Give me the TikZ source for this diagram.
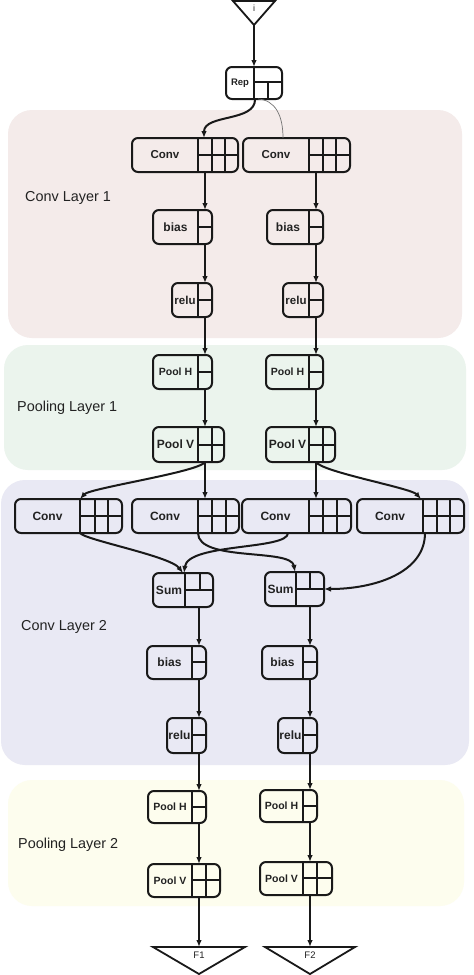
\documentclass[tikz,border=0pt]{standalone}
\usepackage{fontspec}
\setmainfont{Liberation Sans}
\usetikzlibrary{arrows.meta}
\definecolor{rA}{HTML}{F4EBEA}
\definecolor{rB}{HTML}{EBF4ED}
\definecolor{rC}{HTML}{E9E9F4}
\definecolor{rD}{HTML}{FDFDEE}
\definecolor{txt}{HTML}{222222}
\newcommand\fsz[1]{\fontsize{#1}{#1}\selectfont}
% name, x1, y1, x2, y2, xdiv, first-column end, label
\newcommand\blk[8]{%
  \node[box, anchor=north west, minimum width={(#4-#2)*1pt}, minimum height={(#5-#3)*1pt}] (#1) at (#2,#3) {};
  \node[cellnode, anchor=north west, minimum width={(#4-#6)*1pt}, minimum height={(#5-#3)*1pt}] (#1-p) at (#6,#3) {};
  \node[cellnode, anchor=north west, minimum width={(#7-#6)*1pt}, minimum height={(#5-#3)*1pt}] (#1-c) at (#6,#3) {};
  \node[lbl] (#1-l) at ({(#2+#6)/2},{(#3+#5)/2}) {#8};
  \draw[grid] (#6,#3) -- (#6,#5);
}
\newcommand\hln[3]{\draw[grid] (#1,#3) -- (#2,#3);}
\newcommand\vln[3]{\draw[grid] (#1,#2) -- (#1,#3);}
\begin{document}
\begin{tikzpicture}[x=1pt,y=-1pt,
  box/.style={draw=black!90, line width=2pt, rounded corners=6pt, inner sep=0pt, outer sep=0pt},
  cellnode/.style={inner sep=0pt, outer sep=0pt},
  lbl/.style={font=\bfseries, text=txt, inner sep=0pt},
  grid/.style={line width=1.8pt, draw=black!90},
  arr/.style={line width=2pt, draw=black!90, -{Latex[length=7pt,width=5.5pt]}},
  thinln/.style={line width=0.7pt, draw=black!55},
  region/.style={rounded corners=24pt},
  layer/.style={font=\fsz{14.4}, text=txt, anchor=west, inner sep=0pt}]
\useasboundingbox (0,0) rectangle (474,975);
\fill[white] (0,0) rectangle (474,975);
% layer regions
\fill[rA, region] (8,110) rectangle (462,338);
\fill[rB, region] (4,345) rectangle (466,470);
\fill[rC, region] (1,480) rectangle (469,765);
\fill[rD, region] (8,780) rectangle (464,906);
\node[layer] (lab1) at (25,198) {Conv Layer 1};
\node[layer] (lab2) at (17,408) {Pooling Layer 1};
\node[layer] (lab3) at (21,627) {Conv Layer 2};
\node[layer] (lab4) at (18,845) {Pooling Layer 2};
% input
\draw[grid, line join=miter] (233,1) -- (275,1) -- (254,25) -- cycle;
\node[lbl, font=\mdseries\fsz{9}] (inlbl) at (254,8) {i};
\coordinate (in) at (254,25);
% Rep
\blk{rep}{226}{67}{282}{99}{254}{282}{\fsz{9.5}Rep}
\hln{254}{282}{82}\vln{268}{82}{99}
% Conv layer 1
\blk{convA}{132}{138}{238}{172}{198}{212}{\fsz{11.5}Conv}
\hln{198}{238}{155}\vln{212}{138}{172}\vln{225}{138}{172}
\blk{convB}{243}{138}{350}{172}{309}{323}{\fsz{11.5}Conv}
\hln{309}{350}{155}\vln{323}{138}{172}\vln{336}{138}{172}
\blk{biasA}{153}{210}{212}{244}{198}{212}{\fsz{12}bias}\hln{198}{212}{227}
\blk{biasB}{267}{210}{323}{244}{309}{323}{\fsz{12}bias}\hln{309}{323}{227}
\blk{reluA}{172}{283}{212}{317}{198}{212}{\fsz{11.5}relu}\hln{198}{212}{300}
\blk{reluB}{283}{283}{323}{317}{309}{323}{\fsz{11.5}relu}\hln{309}{323}{300}
% Pooling layer 1
\blk{phA}{153}{355}{212}{389}{198}{212}{\fsz{10.5}Pool H}\hln{198}{212}{372}
\blk{phB}{266}{355}{323}{389}{309}{323}{\fsz{10.5}Pool H}\hln{309}{323}{372}
\blk{pvA}{153}{427}{224}{462}{198}{212}{\fsz{12}Pool V}\hln{198}{224}{445}\vln{212}{427}{462}
\blk{pvB}{266}{427}{335}{462}{309}{323}{\fsz{12}Pool V}\hln{309}{335}{445}\vln{323}{427}{462}
% Conv layer 2
\blk{c1}{15}{499}{122}{533}{80}{95}{\fsz{12}Conv}
\hln{80}{122}{516}\vln{95}{499}{533}\vln{108}{499}{533}
\blk{c2}{132}{499}{239}{533}{198}{212}{\fsz{12}Conv}
\hln{198}{239}{516}\vln{212}{499}{533}\vln{226}{499}{533}
\blk{c3}{242}{499}{351}{533}{309}{323}{\fsz{12}Conv}
\hln{309}{351}{516}\vln{323}{499}{533}\vln{337}{499}{533}
\blk{c4}{357}{499}{464}{533}{423}{437}{\fsz{12}Conv}
\hln{423}{464}{516}\vln{437}{499}{533}\vln{450}{499}{533}
\blk{s1}{153}{573}{213}{607}{185}{200}{\fsz{12}Sum}\hln{185}{213}{590}\vln{200}{573}{590}
\blk{s2}{265}{572}{324}{606}{296}{310}{\fsz{12}Sum}\hln{296}{324}{589}\vln{310}{572}{589}
\blk{b2A}{147}{646}{206}{679}{192}{206}{\fsz{12}bias}\hln{192}{206}{662}
\blk{b2B}{262}{646}{317}{679}{303}{317}{\fsz{12}bias}\hln{303}{317}{662}
\blk{r2A}{167}{718}{206}{753}{192}{206}{\fsz{12}relu}\hln{192}{206}{735}
\blk{r2B}{278}{718}{317}{753}{303}{317}{\fsz{12}relu}\hln{303}{317}{735}
% Pooling layer 2
\blk{ph2A}{148}{791}{206}{823}{192}{206}{\fsz{10.5}Pool H}\hln{192}{206}{807}
\blk{ph2B}{260}{790}{317}{822}{303}{317}{\fsz{10.5}Pool H}\hln{303}{317}{806}
\blk{pv2A}{148}{864}{220}{897}{192}{206}{\fsz{10.5}Pool V}\hln{192}{220}{880}\vln{206}{864}{897}
\blk{pv2B}{260}{862}{332}{895}{303}{317}{\fsz{10.5}Pool V}\hln{303}{332}{878}\vln{317}{862}{895}
% outputs
\draw[grid, line join=miter] (153,947) -- (245,947) -- (199,974) -- cycle;
\node[lbl, font=\mdseries\fsz{9.5}] (f1l) at (199,955) {F1};
\coordinate (f1) at (199,947);
\draw[grid, line join=miter] (265,947) -- (355,947) -- (310,974) -- cycle;
\node[lbl, font=\mdseries\fsz{9.5}] (f2l) at (310,955) {F2};
\coordinate (f2) at (310,947);
% connectors
\draw[arr] (in) -- (rep-p.north west);
\draw[arr] ([xshift=1pt]rep-p.south west) .. controls +(1,23) and +(0,-24) .. ([xshift=6pt]convA-p.north west);
\draw[thinln] ([xshift=4pt]rep-p.south west) .. controls +(17,1) and +(0,-23) .. ([xshift=40pt]convB.north west);
\draw[arr] (biasA-p.north |- convA.south) -- (biasA-p.north);
\draw[arr] (biasB-p.north |- convB.south) -- (biasB-p.north);
\draw[arr] (reluA-p.north |- biasA.south) -- (reluA-p.north);
\draw[arr] (reluB-p.north |- biasB.south) -- (reluB-p.north);
\draw[arr] (phA-p.north |- reluA.south) -- (phA-p.north);
\draw[arr] (phB-p.north |- reluB.south) -- (phB-p.north);
\draw[arr] (pvA-c.north |- phA.south) -- (pvA-c.north);
\draw[arr] (pvB-c.north |- phB.south) -- (pvB-c.north);
\draw[arr] (c2-c.north |- pvA.south) -- (c2-c.north);
\draw[arr] (c3-c.north |- pvB.south) -- (c3-c.north);
\draw[arr] (pvA-c.south) .. controls +(-6,10) and +(10,-11) .. (c1-p.north west);
\draw[arr] (pvB-c.south) .. controls +(6,10) and +(-10,-11) .. ([xshift=-2pt]c4-p.north west);
\draw[arr] (c1-p.south west) .. controls +(5,7) and +(-13,-17) .. ([xshift=-2pt]s1-p.north west);
\draw[arr] ([xshift=46pt]c3.south west) .. controls +(0,17) and +(4,-30) .. ([xshift=-1pt]s1-p.north west);
\draw[arr] (c2-p.south west) .. controls +(0,29) and +(-4,-24) .. ([xshift=-1pt]s2-p.north west);
\draw[arr] ([xshift=2pt]c4-p.south west) .. controls +(0,40) and +(50,0) .. (s2.east);
\draw[arr] (b2A-p.north |- s1.south) -- (b2A-p.north);
\draw[arr] (b2B-p.north |- s2.south) -- (b2B-p.north);
\draw[arr] (r2A-p.north |- b2A.south) -- (r2A-p.north);
\draw[arr] (r2B-p.north |- b2B.south) -- (r2B-p.north);
\draw[arr] (ph2A-p.north |- r2A.south) -- (ph2A-p.north);
\draw[arr] (ph2B-p.north |- r2B.south) -- (ph2B-p.north);
\draw[arr] (pv2A-c.north |- ph2A.south) -- (pv2A-c.north);
\draw[arr] (pv2B-c.north |- ph2B.south) -- (pv2B-c.north);
\draw[arr] (pv2A-c.south) -- (f1);
\draw[arr] (pv2B-c.south) -- (f2);
\end{tikzpicture}
\end{document}
